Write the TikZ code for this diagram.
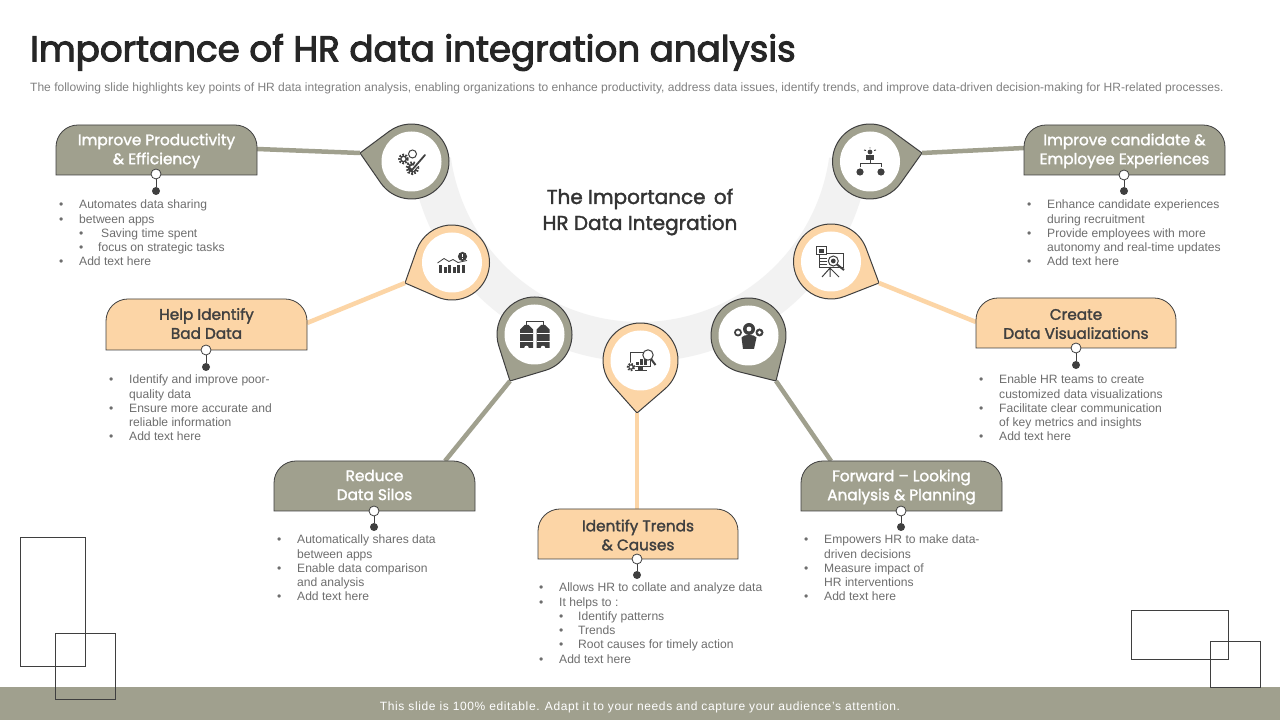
\documentclass[tikz,border=0pt]{standalone}
\usepackage{fontspec}
\usetikzlibrary{calc}
\setmainfont{Liberation Sans}
\newfontfamily\titlefont[FakeBold=2.8]{Poppins}
\newfontfamily\headfont[FakeBold=1.8]{Poppins}
\definecolor{sage}{HTML}{A0A08E}
\definecolor{peach}{HTML}{FCD5A6}
\definecolor{inkdark}{HTML}{3F3F3F}
\definecolor{bodytext}{HTML}{6E6E6E}
\definecolor{bandgray}{HTML}{F2F2F2}
\tikzset{
  pinline/.style={draw=inkdark,line width=1pt,line join=round},
  boxline/.style={draw=inkdark,line width=0.8pt},
  linksage/.style={draw=sage,line width=4.5pt},
  linkpeach/.style={draw=peach,line width=4.5pt},
  stemline/.style={draw=inkdark,line width=1pt},
  holedot/.style={circle,draw=inkdark,fill=white,line width=0.8pt,inner sep=0pt,minimum size=10pt},
  solidot/.style={circle,fill=inkdark,inner sep=0pt,minimum size=8pt},
  headtext/.style={font=\headfont\fontsize{15.3}{19}\selectfont,align=center,inner sep=0pt},
  listtext/.style={anchor=north west,inner sep=0pt,align=left,text=bodytext,font=\fontsize{12.1}{14.25}\selectfont},
  decor/.style={draw=inkdark,line width=0.7pt},
  icl/.style={draw=inkdark,line width=1pt,fill=none},
}
% list line: bullet offset, text offset, text
\newcommand{\li}[3]{\makebox[0pt][l]{\hspace*{#1pt}•}\hspace*{#2pt}#3\\}
\newcommand{\nb}[1]{\hspace*{20pt}#1\\}
% pin: name, cx, cy, tipx, tipy, r, fill
\newcommand{\pinshape}[7]{%
  \pgfmathsetmacro\pcy{720-#3}%
  \pgfmathsetmacro\pty{720-#5}%
  \pgfmathsetmacro\pd{veclen(#4-#2,\pty-\pcy)}%
  \pgfmathsetmacro\pphi{atan2(\pty-\pcy,#4-#2)}%
  \pgfmathsetmacro\pal{acos(#6/\pd)}%
  \coordinate (#1tip) at (#4,\pty);
  \draw[pinline,fill=#7] (#1tip) -- ($(#2,\pcy)+(\pphi+\pal:#6)$)
     arc[start angle=\pphi+\pal,delta angle=360-2*\pal,radius=#6] -- cycle;
  \node[circle,fill=white,inner sep=0pt,minimum size=60pt] (#1) at (#2,\pcy) {};
}
% box: name, left, right, top, bottom, fill, textcolor, text shift, text
\newcommand{\topbox}[9]{%
  \pgfmathsetmacro\bt{720-#4}%
  \pgfmathsetmacro\bb{720-#5}%
  \pgfmathsetmacro\bcx{(#2+#3)/2}%
  \pgfmathsetmacro\bcy{(\bt+\bb)/2+#8}%
  \fill[#6] (#2,\bb) -- (#2,\bt-22) arc[start angle=180,end angle=90,radius=22] -- (#3-22,\bt) arc[start angle=90,end angle=0,radius=22] -- (#3,\bb) -- cycle;
  \draw[boxline] (#2,\bb) -- (#2,\bt-22) arc[start angle=180,end angle=90,radius=22] -- (#3-22,\bt) arc[start angle=90,end angle=0,radius=22] -- (#3,\bb) -- cycle;
  \node[headtext,text=#7] (#1) at (\bcx,\bcy) {\vphantom{Agy}#9\vphantom{Agy}};
}
\newcommand{\stem}[4]{% name, x, ytop, ybottom
  \pgfmathsetmacro\sa{720-#3}%
  \pgfmathsetmacro\sb{720-#4}%
  \node[holedot] (#1a) at (#2,\sa) {};
  \node[solidot] (#1b) at (#2,\sb) {};
  \draw[stemline] (#1a) -- (#1b);
}
\newcommand{\gearicon}[3]{% x y r
  \draw[inkdark,line width=#3*0.6pt,dash pattern=on 1.6pt off 1.4pt] (#1,#2) circle (#3*1.1);
  \draw[inkdark,line width=#3*0.35pt] (#1,#2) circle (#3*0.72);
}
\begin{document}
\begin{tikzpicture}[x=1pt,y=1pt]
\useasboundingbox (0,0) rectangle (1280,720);
\fill[white] (0,0) rectangle (1280,720);

% title
\node[anchor=west,inner sep=0pt,text=black!85,font=\titlefont\fontsize{35.7}{40}\selectfont] (title) at (30,667.5) {Importance of HR data integration analysis};
\node[anchor=west,inner sep=0pt,text=black!50,font=\fontsize{12.03}{14}\selectfont] (subtitle) at (30,632) {The following slide highlights key points of HR data integration analysis, enabling organizations to enhance productivity, address data issues, identify trends, and improve data-driven decision-making for HR-related processes.};

% band
\fill[bandgray] (640,589) ++(188:231) arc[start angle=188,end angle=352,radius=231] -- ++(172:40) arc[start angle=352,end angle=188,radius=191] -- cycle;

% centre title
\node[inner sep=0pt,align=center,text=black!80,font=\headfont\fontsize{20}{26}\selectfont] (centre) at (640,508) {The Importance\hspace{3pt} of\\HR Data Integration};

% footer
\fill[sage] (0,0) rectangle (1280,33);
\node[text=white,inner sep=0pt,font=\fontsize{12}{14}\selectfont] (footer) at (640,12.3) {\addfontfeature{LetterSpace=5.2}This slide is 100\% editable. Adapt it to your needs and capture your audience's attention.};

% decorative rectangles
\draw[decor] (20,183) rectangle (85,54);
\draw[decor] (55,87) rectangle (115,21);
\draw[decor] (1131,110) rectangle (1228,61);
\draw[decor] (1210,79) rectangle (1260,33);

% connector ends on the boxes
\coordinate (c1) at (257,571);
\coordinate (c2) at (307,397);
\coordinate (c3) at (445,259);
\coordinate (c4) at (637,211);
\coordinate (c5) at (831,259);
\coordinate (c6) at (976,398);
\coordinate (c7) at (1024,572);

% pins
\pinshape{pa}{411.5}{161.5}{360}{153}{37.5}{sage}
\pinshape{pb}{452}{262.5}{405}{283}{37.5}{peach}
\pinshape{pc}{534.5}{334.5}{510}{381}{37.5}{sage}
\pinshape{pd}{640.5}{360.5}{637}{413}{37.5}{peach}
\pinshape{pe}{748.5}{335.5}{776}{381}{37.5}{sage}
\pinshape{pf}{831}{261.5}{879}{283}{37.5}{peach}
\pinshape{pg}{870}{161.5}{922}{153}{37.5}{sage}

% links
\draw[linksage] (c1) -- (patip);
\draw[linkpeach] (c2) -- (pbtip);
\draw[linksage] (c3) -- (pctip);
\draw[linkpeach] (c4) -- (pdtip);
\draw[linksage] (c5) -- (petip);
\draw[linkpeach] (c6) -- (pftip);
\draw[linksage] (c7) -- (pgtip);

% boxes
\topbox{ba}{56}{257}{125}{175}{sage}{white}{-1}{Improve Productivity\\\& Efficiency}
\topbox{bb}{106}{307}{299}{350}{peach}{black!75}{-1}{Help Identify\\Bad Data}
\topbox{bc}{274}{475}{461}{511}{sage}{white}{-1}{Reduce\\Data Silos}
\topbox{bd}{538}{738}{509}{559}{peach}{black!75}{-3}{Identify Trends\\\& Causes}
\topbox{be}{801}{1002}{461}{511}{sage}{white}{-1}{Forward – Looking\\Analysis \& Planning}
\topbox{bf}{976}{1176}{298}{348}{peach}{black!75}{-3}{Create\\Data Visualizations}
\topbox{bg}{1024}{1225}{125}{175}{sage}{white}{-1}{Improve candidate \&\\Employee Experiences}

% stems
\stem{sa}{156}{174}{191}
\stem{sb}{206}{350}{367}
\stem{sc}{374}{511}{527}
\stem{sd}{637}{559}{575}
\stem{se}{901}{511}{527}
\stem{sf}{1076}{348}{365}
\stem{sg}{1124}{175}{191}

% lists
\node[listtext] (la) at (59,520) {\li{0}{20}{Automates data sharing}\li{0}{20}{between apps}\li{20}{42}{Saving time spent}\li{20}{39}{focus on strategic tasks}\li{0}{20}{Add text here}};
\node[listtext] (lb) at (109,345) {\li{0}{20}{Identify and improve poor-}\nb{quality data}\li{0}{20}{Ensure more accurate and}\nb{reliable information}\li{0}{20}{Add text here}};
\node[listtext] (lc) at (277,185) {\li{0}{20}{Automatically shares data}\nb{between apps}\li{0}{20}{Enable data comparison}\nb{and analysis}\li{0}{20}{Add text here}};
\node[listtext] (ld) at (539,137) {\li{0}{20}{Allows HR to collate and analyze data}\li{0}{20}{It helps to :}\li{20}{39}{Identify patterns}\li{20}{39}{Trends}\li{20}{39}{Root causes for timely action}\li{0}{20}{Add text here}};
\node[listtext] (le) at (804,185) {\li{0}{20}{Empowers HR to make data-}\nb{driven decisions}\li{0}{20}{Measure impact of}\nb{HR interventions}\li{0}{20}{Add text here}};
\node[listtext] (lf) at (979,345) {\li{0}{20}{Enable HR teams to create}\nb{customized data visualizations}\li{0}{20}{Facilitate clear communication}\nb{of key metrics and insights}\li{0}{20}{Add text here}};
\node[listtext] (lg) at (1027,520) {\li{0}{20}{Enhance candidate experiences}\nb{during recruitment}\li{0}{20}{Provide employees with more}\nb{autonomy and real-time updates}\li{0}{20}{Add text here}};

% icon a: gears + stopwatch + tick
\begin{scope}[shift={(pa)}]
  \gearicon{1}{-6.5}{5}
  \gearicon{-8}{2.5}{3.8}
  \draw[icl] (1,7.5) circle (4);
  \draw[white,line width=3.5pt] (0.5,-8.5) -- (13.5,6.5);
  \draw[inkdark,line width=1.8pt,line cap=round] (-3,-5.5) -- (0.5,-8.5) -- (13.5,6.5);
\end{scope}
% icon b: chart + alert
\begin{scope}[shift={(pb)}]
  \foreach \x/\h in {-13/8,-8.5/6,-4/8,0.5/5.5,5/7.5,9.5/8}{\fill[inkdark] (\x,-10.5) rectangle ++(3,\h);}
  \draw[inkdark,line width=0.8pt] (-14.5,-0.5) -- (-8,4) -- (-3,1) -- (1,3) -- (6,0) -- (15,2);
  \fill[inkdark] (10.5,6) circle (4.6);
  \draw[white,line width=1pt] (10.5,8.6) -- (10.5,5.6) (10.5,4.6) -- (10.5,3.4);
\end{scope}
% icon c: silos
\begin{scope}[shift={(pc)}]
  \draw[icl] (-8,9) -- (-8,12.5) -- (8.5,12.5) -- (8.5,9);
  \foreach \x in {-8,8.5}{
    \fill[inkdark] (\x-6.5,-13.5) -- (\x-6.5,5) -- (\x-2,9.5) -- (\x+2,9.5) -- (\x+6.5,5) -- (\x+6.5,-13.5) -- cycle;
    \draw[white,line width=0.9pt] (\x-6.5,1) -- (\x+6.5,1) (\x-6.5,-6.5) -- (\x+6.5,-6.5);
    \fill[white] (\x,-13.5) circle (2.3);
  }
\end{scope}
% icon d: monitor, bars, magnifier, gear
\begin{scope}[shift={(pd)}]
  \draw[icl] (-10.5,-6.5) -- (-10.5,7.5) -- (3,7.5);
  \draw[icl] (-10.5,-6.5) -- (9.5,-6.5) -- (9.5,0);
  \fill[inkdark] (-2.5,-10) rectangle (2.5,-6.5);
  \fill[inkdark] (-6,-11) rectangle (6,-9.5);
  \foreach \x/\h in {-4.5/3.5,-0.5/6,3.5/9}{\fill[inkdark] (\x,-5) rectangle ++(3,\h);}
  \draw[icl,fill=white] (7.5,5.5) circle (5.2);
  \draw[inkdark,line width=2pt] (10.5,1.5) -- (15,-4.5);
  \fill[white] (-9.5,-6.5) circle (4.5);
  \gearicon{-9.5}{-6.5}{3}
\end{scope}
% icon e: head with bulb
\begin{scope}[shift={(pe)}]
  \fill[inkdark] (0.5,6.5) circle (6);
  \fill[inkdark] (-5.5,-13.5) -- (-7,-2) .. controls (-5,1.5) and (6,1.5) .. (8,-2) -- (5.5,-13.5) -- cycle;
  \fill[white] (0.5,6.5) circle (2.4);
  \fill[inkdark] (-10.5,3) circle (4);
  \fill[inkdark] (11,3) circle (4);
  \fill[white] (-10.5,3) circle (2);
  \fill[white] (11,3) circle (1.8);
\end{scope}
% icon f: presentation board
\begin{scope}[shift={(pf)}]
  \draw[inkdark,line width=0.8pt,fill=white] (-12,8.5) rectangle (12,-5.5);
  \draw[inkdark,line width=1pt,fill=white] (-15,14.5) rectangle (-5,6.5);
  \fill[inkdark] (-12.5,12.5) rectangle (-7.5,8.5);
  \draw[inkdark,line width=0.7pt] (-12,3) -- (-4,3) (-12,0) -- (-4,0) (-12,-3) -- (-4,-3);
  \draw[icl,fill=white] (2.3,0.5) circle (5);
  \fill[inkdark] (2.3,0.5) circle (2.4);
  \draw[inkdark,line width=2pt] (6,-3) -- (13,-8.5);
  \draw[inkdark,line width=1pt] (-1,-5.5) -- (-1,-15.5) (-1,-6.5) -- (-9,-15.5) (-1,-6.5) -- (8,-15.5);
\end{scope}
% icon g: org chart
\begin{scope}[shift={(pg)}]
  \fill[inkdark] (0,9.5) circle (2.4);
  \fill[inkdark] (-4,1) rectangle (4,6.5);
  \draw[inkdark,line width=0.9pt] (-6,11.5) -- (-4,11) (6,11.5) -- (4,11) (0,14) -- (0,13);
  \draw[inkdark,line width=0.7pt] (0,1) -- (0,-2) (-10,-6) -- (-10,-2) -- (11,-2) -- (11,-6);
  \fill[inkdark] (-10,-10.5) circle (3.6);
  \fill[inkdark] (11,-10.5) circle (3.6);
\end{scope}
\end{tikzpicture}
\end{document}
